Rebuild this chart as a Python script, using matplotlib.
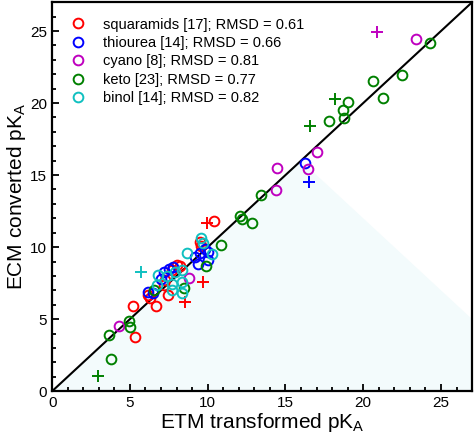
import matplotlib
matplotlib.use("Agg")
import matplotlib.pyplot as plt
from matplotlib.ticker import MultipleLocator

plt.rcParams['font.family'] = ['Liberation Sans', 'DejaVu Sans']
plt.rcParams['mathtext.fontset'] = 'custom'
plt.rcParams['mathtext.rm'] = 'Liberation Sans'

# ETM transformed (x) vs ECM converted (y) pKa values
sq_x = [5.31, 5.23, 6.66, 6.30, 6.15, 7.26, 8.01, 7.47, 9.51, 10.43, 7.20, 7.70, 9.60, 8.20]
sq_y = [3.77, 5.90, 5.90, 6.44, 6.67, 7.71, 8.75, 6.67, 10.37, 11.83, 7.40, 8.40, 10.10, 8.70]
sq_px = [8.55, 9.73, 9.94]
sq_py = [6.16, 7.59, 11.65]

th_x = [6.19, 7.16, 7.80, 9.51, 9.40, 10.05, 10.00, 16.28, 6.50, 7.50, 9.20, 9.80, 7.00]
th_y = [6.90, 8.29, 8.63, 9.56, 8.86, 9.10, 9.67, 15.81, 6.80, 8.50, 9.30, 9.90, 7.80]
th_px = [16.54]
th_py = [14.51]

cy_x = [4.31, 8.80, 14.48, 16.45, 14.40, 17.01, 23.39]
cy_y = [4.54, 7.87, 15.51, 15.45, 13.96, 16.58, 24.44]
cy_px = [20.90]
cy_py = [24.95]

ke_x = [3.79, 3.68, 5.01, 4.97, 6.58, 8.50, 9.88, 10.86, 12.08, 12.83, 12.20, 13.41,
        17.78, 18.72, 18.77, 19.04, 20.65, 21.29, 22.47, 24.29]
ke_y = [2.22, 3.89, 4.47, 4.88, 7.01, 7.13, 8.68, 10.14, 12.15, 11.69, 11.95, 13.61,
        18.75, 19.51, 18.94, 20.09, 21.53, 20.33, 21.92, 24.14]
ke_px = [2.94, 16.58, 18.19]
ke_py = [1.06, 18.40, 20.25]

bi_x = [6.73, 6.83, 7.91, 8.33, 8.33, 7.69, 7.69, 8.33, 8.66, 9.58, 10.30, 7.40, 9.70]
bi_y = [7.36, 8.06, 8.29, 8.40, 7.55, 7.43, 7.01, 6.83, 9.56, 10.60, 9.51, 8.00, 10.30]
bi_px = [5.72]
bi_py = [8.29]

series = [
    ("squaramids [17]; RMSD = 0.61", "#ff0000", sq_x, sq_y, sq_px, sq_py),
    ("thiourea [14]; RMSD = 0.66", "#0000ff", th_x, th_y, th_px, th_py),
    ("cyano [8]; RMSD = 0.81", "#bf00bf", cy_x, cy_y, cy_px, cy_py),
    ("keto [23]; RMSD = 0.77", "#008000", ke_x, ke_y, ke_px, ke_py),
    ("binol [14]; RMSD = 0.82", "#10c0c0", bi_x, bi_y, bi_px, bi_py),
]

lim = 27
shade_x = [0, 16, 32]
shade_y = [0, 16, 0]

fig = plt.figure(figsize=(4.74, 4.43), dpi=100)
ax = fig.add_axes([0.110, 0.117, 0.886, 0.878])

ax.fill(shade_x, shade_y, color="#f3fbfc", lw=0, zorder=0)
ax.plot([0, lim], [0, lim], color="black", lw=1.5, zorder=1)

for label, col, x, y, px, py in series:
    ax.plot(x, y, "o", ms=7, mfc="none", mec=col, mew=1.4, label=label, zorder=2)
    ax.plot(px, py, "+", ms=8, color=col, mew=1.4, zorder=2)

ax.set_xlim(0, lim)
ax.set_ylim(0, lim)
ax.xaxis.set_major_locator(MultipleLocator(5))
ax.yaxis.set_major_locator(MultipleLocator(5))
ax.xaxis.set_minor_locator(MultipleLocator(1))
ax.yaxis.set_minor_locator(MultipleLocator(1))
ax.tick_params(which="both", direction="in", top=False, right=False, labelsize=11, width=1.3)
ax.tick_params(which="major", length=5)
ax.tick_params(which="minor", length=3)
for s in ax.spines.values():
    s.set_linewidth(1.6)

ax.set_xlabel(r"ETM transformed pK$_\mathregular{A}$", fontsize=15, labelpad=1)
ax.set_ylabel(r"ECM converted pK$_\mathregular{A}$", fontsize=15, labelpad=2)

ax.legend(loc="upper left", frameon=False, fontsize=10.5, handletextpad=0.95,
          labelspacing=0.3, borderaxespad=0.65, handlelength=1.5)

fig.savefig("out.png", dpi=100)
